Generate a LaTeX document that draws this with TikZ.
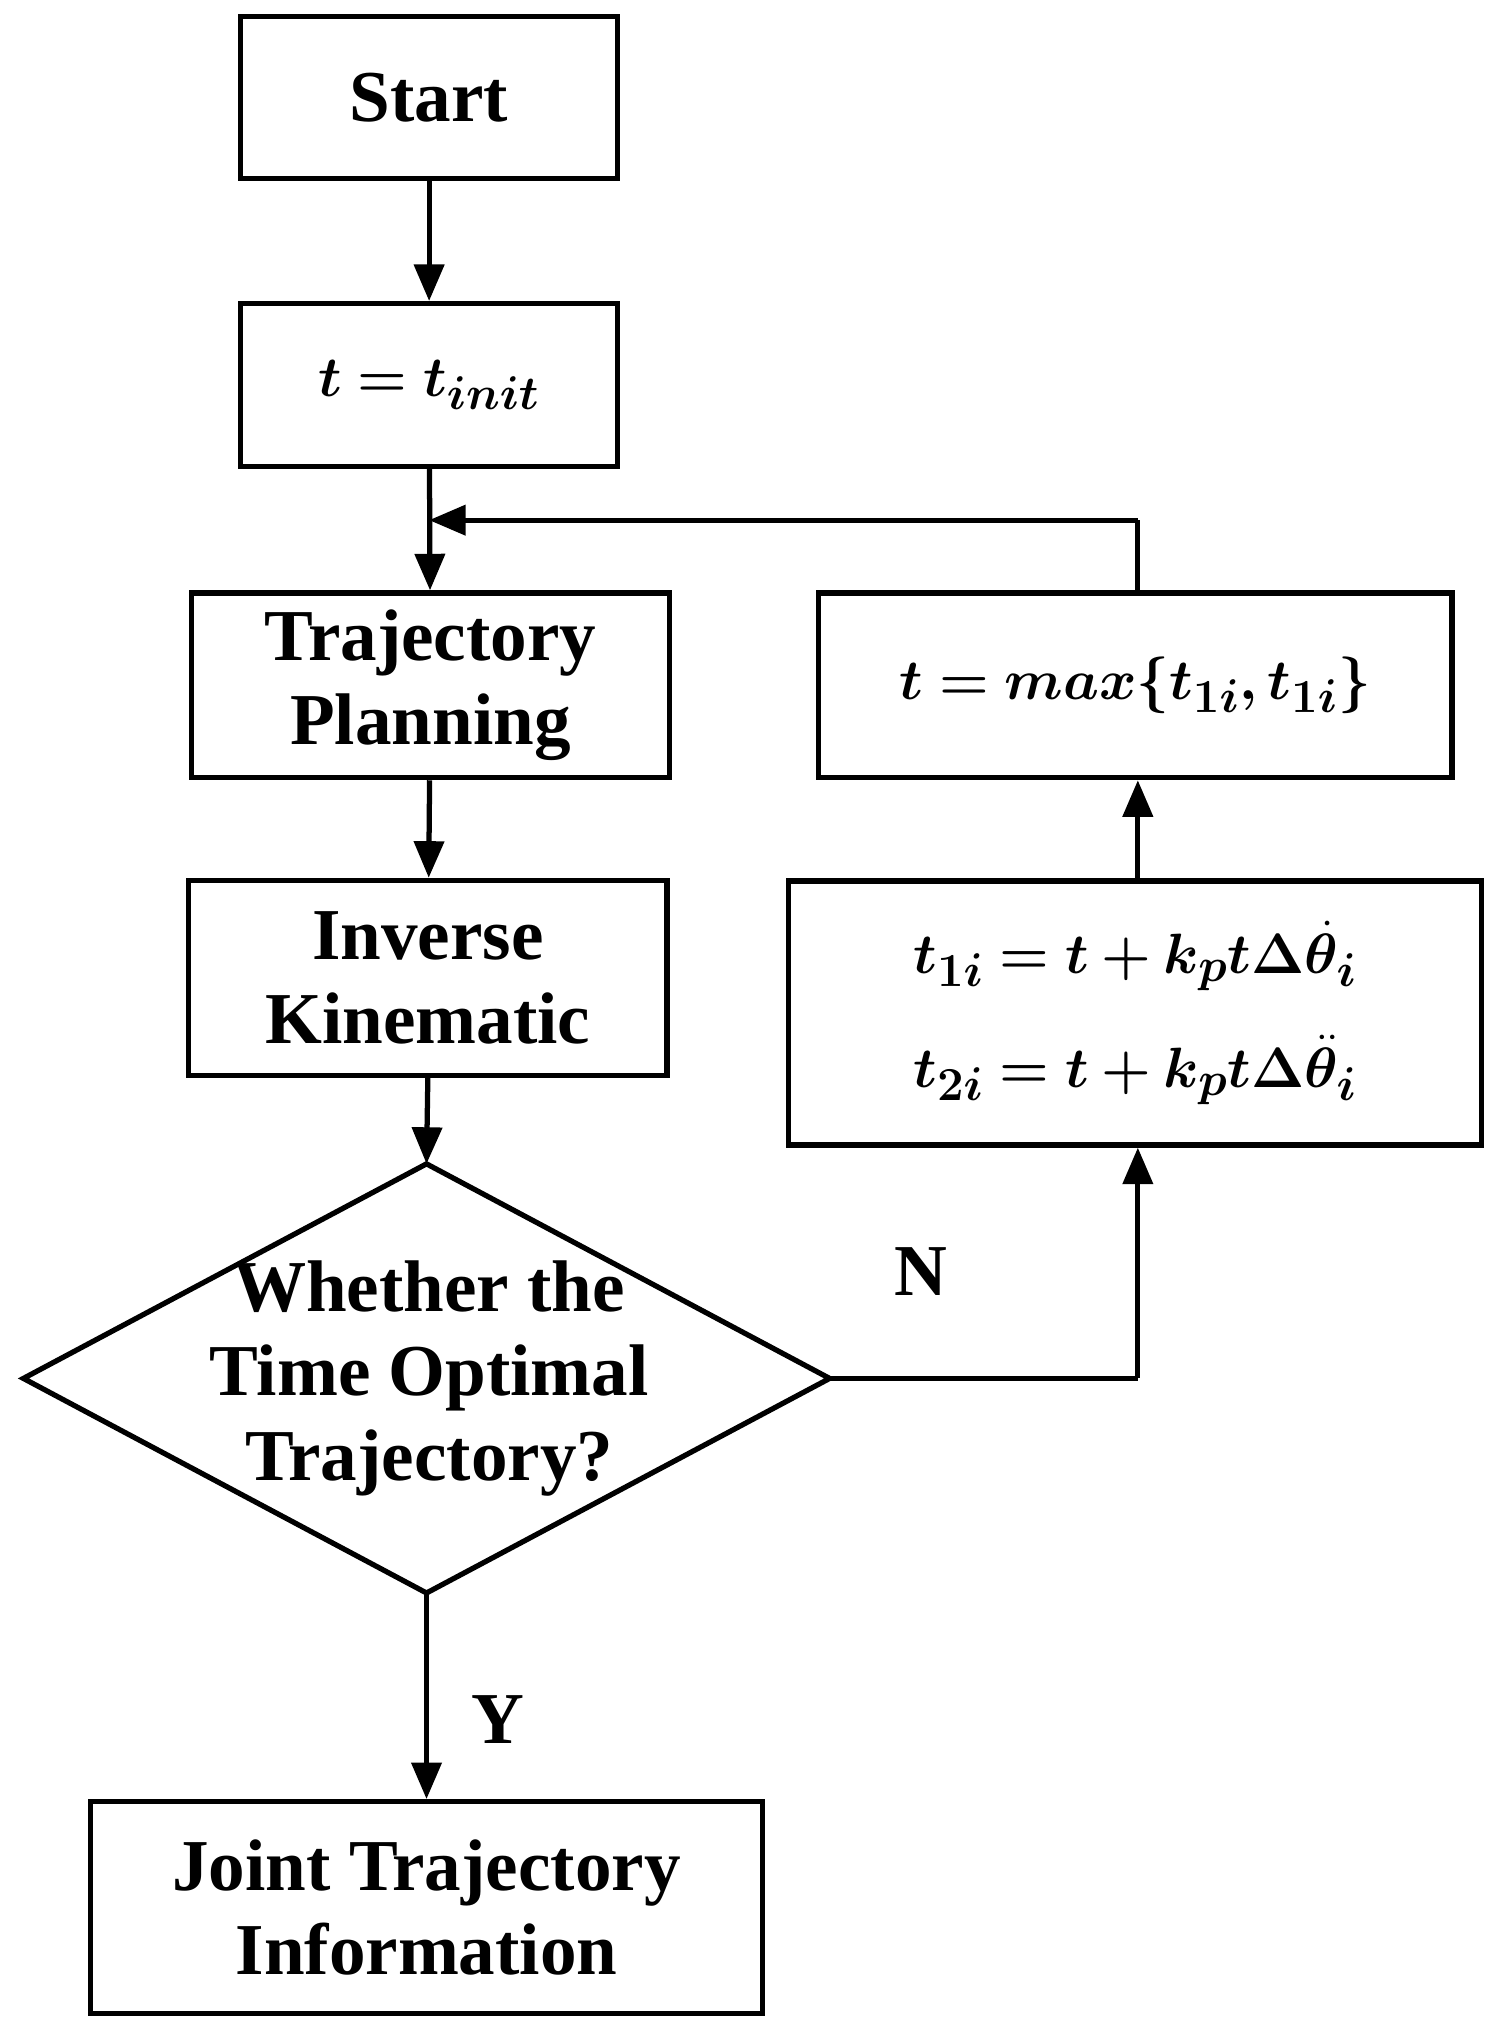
\documentclass[tikz,border=0pt]{standalone}
\usepackage{amsmath,bm}
\usepackage{fontspec}
\setmainfont{Liberation Serif}
\usetikzlibrary{shapes.geometric,arrows.meta}
\begin{document}
\begin{tikzpicture}[x=0.02cm,y=-0.02cm,
  box/.style={draw,line width=2.3pt,inner sep=0pt,align=center,font=\fontsize{32}{37}\selectfont\bfseries},
  arr/.style={line width=2.3pt,-{Triangle[length=16pt,width=13pt]}},
  lab/.style={font=\fontsize{32}{37}\selectfont\bfseries}]
\useasboundingbox (0,0) rectangle (1160,1568);
\node[box,minimum width=290*0.02cm,minimum height=125*0.02cm] (start) at (330,75) {Start};
\node[box,minimum width=290*0.02cm,minimum height=125*0.02cm] (init) at (330,296) {$\bm{t = t_{init}}$};
\node[box,minimum width=368*0.02cm,minimum height=142*0.02cm] (plan) at (331,527) {Trajectory\\Planning};
\node[box,minimum width=368*0.02cm,minimum height=150*0.02cm] (ik) at (329,752) {Inverse\\Kinematic};
\node[box,draw=none,minimum width=620*0.02cm,minimum height=330*0.02cm] (dtext) at (330,1060) {Whether the\\Time Optimal\\Trajectory?};
\draw[line width=2.3pt] (18,1060) coordinate (dl) -- (328,895) coordinate (dt) -- (638,1060) coordinate (dr) -- (328,1225) coordinate (db) -- cycle;
\node[box,minimum width=517*0.02cm,minimum height=163*0.02cm] (joint) at (328,1467) {Joint Trajectory\\Information};
\node[box,minimum width=487*0.02cm,minimum height=142*0.02cm] (max) at (873,527) {$\bm{t = max\{t_{1i}, t_{1i}\}}$};
\node[box,minimum width=533*0.02cm,minimum height=203*0.02cm,font=\fontsize{32}{50}\selectfont\bfseries] (ti) at (873,779) {$\bm{t_{1i} = t + k_p t \Delta\dot{\theta}_i}$\\$\bm{t_{2i} = t + k_p t \Delta\ddot{\theta}_i}$};
\node[lab] (N) at (708,978) {N};
\node[lab] (Y) at (383,1322) {Y};
\coordinate (loopR) at (875,400);
\coordinate (loopL) at (330,400);
\coordinate (corner) at (875,1060);
\draw[arr] (start) -- (init);
\draw[arr] (init) -- (plan);
\draw[arr] (plan) -- (ik);
\draw[arr] (ik.south) -- (dt);
\draw[arr] (db) -- (joint);
\draw[line width=2.3pt] (dr) -- (corner);
\draw[arr] (corner) -- (ti.south -| corner);
\draw[arr] (ti.north -| corner) -- (max.south -| corner);
\draw[line width=2.3pt] (max.north -| loopR) -- (loopR);
\draw[arr] (loopR) -- (loopL);
\end{tikzpicture}
\end{document}
